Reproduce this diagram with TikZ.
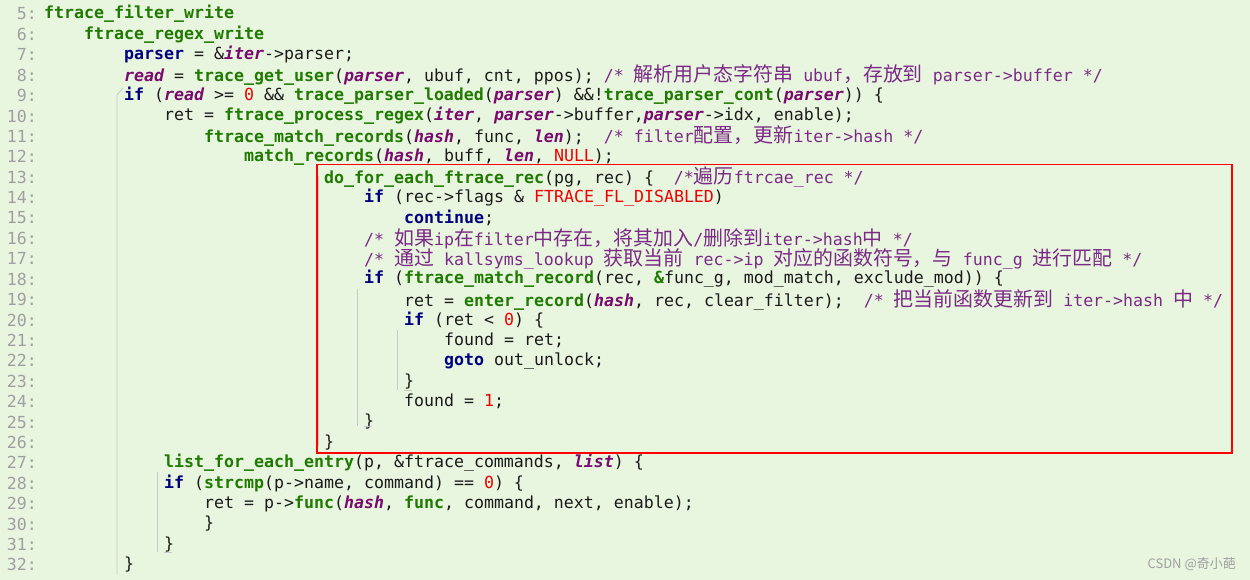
\documentclass[tikz,border=0pt]{standalone}
\usepackage{fontspec}
\setmonofont{DejaVu Sans Mono}
\newfontfamily\zhf[Scale=1.2]{Noto Sans CJK SC}
\newfontfamily\wmf{Noto Sans CJK SC}
\definecolor{bg}{HTML}{E8F5DF}
\definecolor{fnc}{HTML}{1F7A00}
\definecolor{kwc}{HTML}{00007F}
\definecolor{pac}{HTML}{7A0A70}
\definecolor{cmc}{HTML}{7B2A86}
\definecolor{nmc}{HTML}{F00000}
\definecolor{txc}{HTML}{1A1A1A}
\definecolor{lnc}{HTML}{A0A0A0}
\definecolor{guide}{HTML}{C8C8C8}
\newcommand\fn[1]{{\bfseries\color{fnc}#1}}
\newcommand\kw[1]{{\bfseries\color{kwc}#1}}
\newcommand\pa[1]{{\bfseries\itshape\color{pac}#1}}
\newcommand\nm[1]{{\color{nmc}#1}}
\newcommand\cm[1]{{\color{cmc}#1}}
\newcommand\zh[1]{{\zhf #1}}
\newcommand\codeln[3]{\node[code] (c#1) at ({44+40*#2},{14+(#1-5)*20.4}) {#3};}
\begin{document}
\begin{tikzpicture}[x=1pt,y=-1pt,
  code/.style={anchor=west,inner sep=0pt,font=\ttfamily\fontsize{16.6}{20}\selectfont,text=txc},
  lnum/.style={anchor=east,inner sep=0pt,font=\ttfamily\fontsize{16.6}{20}\selectfont,text=lnc},
  gl/.style={draw=guide,line width=0.8pt}]
\fill[bg] (0,0) rectangle (1250,580);
\useasboundingbox (0,0) rectangle (1250,580);
\foreach \n [count=\i from 0] in {5,...,32}{
  \node[lnum] (ln\n) at (37,{14+\i*20.4}) {\n:};
}
\codeln{5}{0}{\fn{ftrace\_filter\_write}}
\codeln{6}{1}{\fn{ftrace\_regex\_write}}
\codeln{7}{2}{\kw{parser} = \&\pa{iter}->parser;}
\codeln{8}{2}{\pa{read} = \fn{trace\_get\_user}(\pa{parser}, ubuf, cnt, ppos); \cm{/* \zh{解析用户态字符串} ubuf\zh{，存放到} parser->buffer */}}
\codeln{9}{2}{\kw{if} (\pa{read} >= \nm{0} \&\& \fn{trace\_parser\_loaded}(\pa{parser}) \&\&!\fn{trace\_parser\_cont}(\pa{parser})) \{}
\codeln{10}{3}{ret = \fn{ftrace\_process\_regex}(\pa{iter}, \pa{parser}->buffer,\pa{parser}->idx, enable);}
\codeln{11}{4}{\fn{ftrace\_match\_records}(\pa{hash}, func, \pa{len});~~\cm{/* filter\zh{配置，更新}iter->hash */}}
\codeln{12}{5}{\fn{match\_records}(\pa{hash}, buff, \pa{len}, \nm{NULL});}
\codeln{13}{7}{\fn{do\_for\_each\_ftrace\_rec}(pg, rec) \{~~\cm{/*\zh{遍历}ftrcae\_rec */}}
\codeln{14}{8}{\kw{if} (rec->flags \& \nm{FTRACE\_FL\_DISABLED})}
\codeln{15}{9}{\kw{continue};}
\codeln{16}{8}{\cm{/* \zh{如果}ip\zh{在}filter\zh{中存在，将其加入}/\zh{删除到}iter->hash\zh{中} */}}
\codeln{17}{8}{\cm{/* \zh{通过} kallsyms\_lookup \zh{获取当前} rec->ip \zh{对应的函数符号，与} func\_g \zh{进行匹配} */}}
\codeln{18}{8}{\kw{if} (\fn{ftrace\_match\_record}(rec, \fn{\&}func\_g, mod\_match, exclude\_mod)) \{}
\codeln{19}{9}{ret = \fn{enter\_record}(\pa{hash}, rec, clear\_filter);~~\cm{/* \zh{把当前函数更新到} iter->hash \zh{中} */}}
\codeln{20}{9}{\kw{if} (ret < \nm{0}) \{}
\codeln{21}{10}{found = ret;}
\codeln{22}{10}{\kw{goto} out\_unlock;}
\codeln{23}{9}{\}}
\codeln{24}{9}{found = \nm{1};}
\codeln{25}{8}{\}}
\codeln{26}{7}{\}}
\codeln{27}{3}{\fn{list\_for\_each\_entry}(p, \&ftrace\_commands, \pa{list}) \{}
\codeln{28}{3}{\kw{if} (\fn{strcmp}(p->name, command) == \nm{0}) \{}
\codeln{29}{4}{ret = p->\fn{func}(\pa{hash}, \fn{func}, command, next, enable);}
\codeln{30}{4}{\}}
\codeln{31}{3}{\}}
\codeln{32}{2}{\}}
% guides
\draw[gl] (123,88) -- (117,95) -- (117,574);
\draw[gl] (318,176) -- (318,446);
\draw[gl] (357,289) -- (357,426);
\draw[gl] (397,330) -- (397,390);
\draw[gl] (157,472) -- (157,552);
\draw[gl] (412,390) -- (404,390);
\draw[gl] (372,426) -- (364,426);
\draw[gl] (172,552) -- (164,552);
% red box
\node[draw=red,line width=1.5pt,inner sep=0pt,minimum width=915,minimum height=288,anchor=north west] (box) at (316,164) {};
\node[anchor=east,inner sep=0pt,font=\wmf\fontsize{13}{14}\selectfont,text=lnc] (wm) at (1236,564) {CSDN @奇小葩};
\end{tikzpicture}
\end{document}
